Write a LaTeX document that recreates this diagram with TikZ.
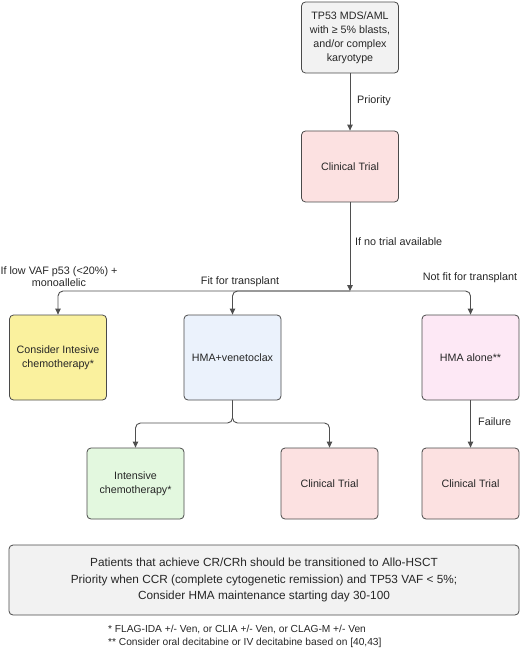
\documentclass[tikz,border=0pt]{standalone}
\usepackage{fontspec}
\setmainfont{Liberation Sans}
\usetikzlibrary{arrows.meta}
\definecolor{edgec}{HTML}{4F4F4F}
\definecolor{borderc}{HTML}{4A4A4A}
\definecolor{grayfill}{HTML}{F2F2F2}
\definecolor{pinkfill}{HTML}{FCE1E1}
\definecolor{yellowfill}{HTML}{FAF19E}
\definecolor{bluefill}{HTML}{EBF2FC}
\definecolor{mauvefill}{HTML}{FDE8F5}
\definecolor{greenfill}{HTML}{E3F8DF}
\newcommand{\bxfont}{\fontsize{10.7}{13.5}\selectfont}
\newcommand{\lblfont}{\fontsize{10.8}{11.8}\selectfont}
\newcommand{\ftfont}{\fontsize{10.2}{12.5}\selectfont}
\tikzset{
  flowbox/.style={draw=borderc, line width=0.8pt, rounded corners=4pt, align=center,
    font=\bxfont, text=black!85, minimum width=97pt, inner sep=2pt},
  shortbox/.style={flowbox, minimum height=71pt},
  tallbox/.style={flowbox, minimum height=85pt},
  conn/.style={draw=edgec, line width=0.9pt, rounded corners=5pt},
  arr/.style={conn, -{Triangle[length=6pt,width=5.5pt]}},
  lbl/.style={font=\lblfont, text=black!85, align=center, inner sep=0pt}
}
\begin{document}
\begin{tikzpicture}[x=1pt,y=-1pt]
\useasboundingbox (0,0) rectangle (520,652);
% nodes
\node[shortbox, fill=grayfill, font=\fontsize{10.7}{14}\selectfont] (top) at (350,37.5) {TP53 MDS/AML\\with ≥ 5\% blasts,\\and/or complex\\karyotype};
\node[shortbox, fill=pinkfill] (ct1) at (350,166.5) {Clinical Trial};
\node[tallbox, fill=yellowfill] (consider) at (58,357.5) {Consider Intesive\\chemotherapy*};
\node[tallbox, fill=bluefill] (hmaven) at (232.5,357.5) {HMA+venetoclax};
\node[tallbox, fill=mauvefill] (hmaalone) at (470.5,357.5) {HMA alone**};
\node[shortbox, fill=greenfill] (ic) at (135.5,483.5) {Intensive\\chemotherapy*};
\node[shortbox, fill=pinkfill] (ct2) at (329.5,483.5) {Clinical Trial};
\node[shortbox, fill=pinkfill] (ct3) at (470.5,483.5) {Clinical Trial};
\node[flowbox, fill=grayfill, minimum width=510pt, minimum height=70pt, font=\fontsize{11.8}{16.5}\selectfont] (note) at (264,580)
  {Patients that achieve CR/CRh should be transitioned to Allo-HSCT\\Priority when CCR (complete cytogenetic remission) and TP53 VAF < 5\%;\\Consider HMA maintenance starting day 30-100};
\node[anchor=north west, align=left, font=\ftfont, text=black!85, inner sep=0pt] (foot) at (108,625)
  {* FLAG-IDA +/- Ven, or CLIA +/- Ven, or CLAG-M +/- Ven\\** Consider oral decitabine or IV decitabine based on [40,43]};
% junctions
\coordinate (j1) at (350,291);
\coordinate (j2) at (232.5,423);
% connectors
\draw[arr] (top.south) -- (ct1.north);
\draw[arr] (ct1.south) -- (j1);
\draw[arr] (j1) -| (hmaalone.north);
\draw[arr] (j1) -| (hmaven.north);
\draw[arr] (j1) -| (consider.north);
\draw[arr] (hmaven.south) -- (j2) -| (ic.north);
\draw[arr] (hmaven.south) -- (j2) -| (ct2.north);
\draw[arr] (hmaalone.south) -- (ct3.north);
% labels
\node[lbl, anchor=west] (lp) at (357,101) {Priority};
\node[lbl, anchor=west] (lnt) at (355,242) {If no trial available};
\node[lbl] (llow) at (59,277) {If low VAF p53 (<20\%) +\\monoallelic};
\node[lbl] (lfit) at (240,282) {Fit for transplant};
\node[lbl] (lnfit) at (470,278) {Not fit for transplant};
\node[lbl, anchor=west] (lfail) at (478,422) {Failure};
\end{tikzpicture}
\end{document}
